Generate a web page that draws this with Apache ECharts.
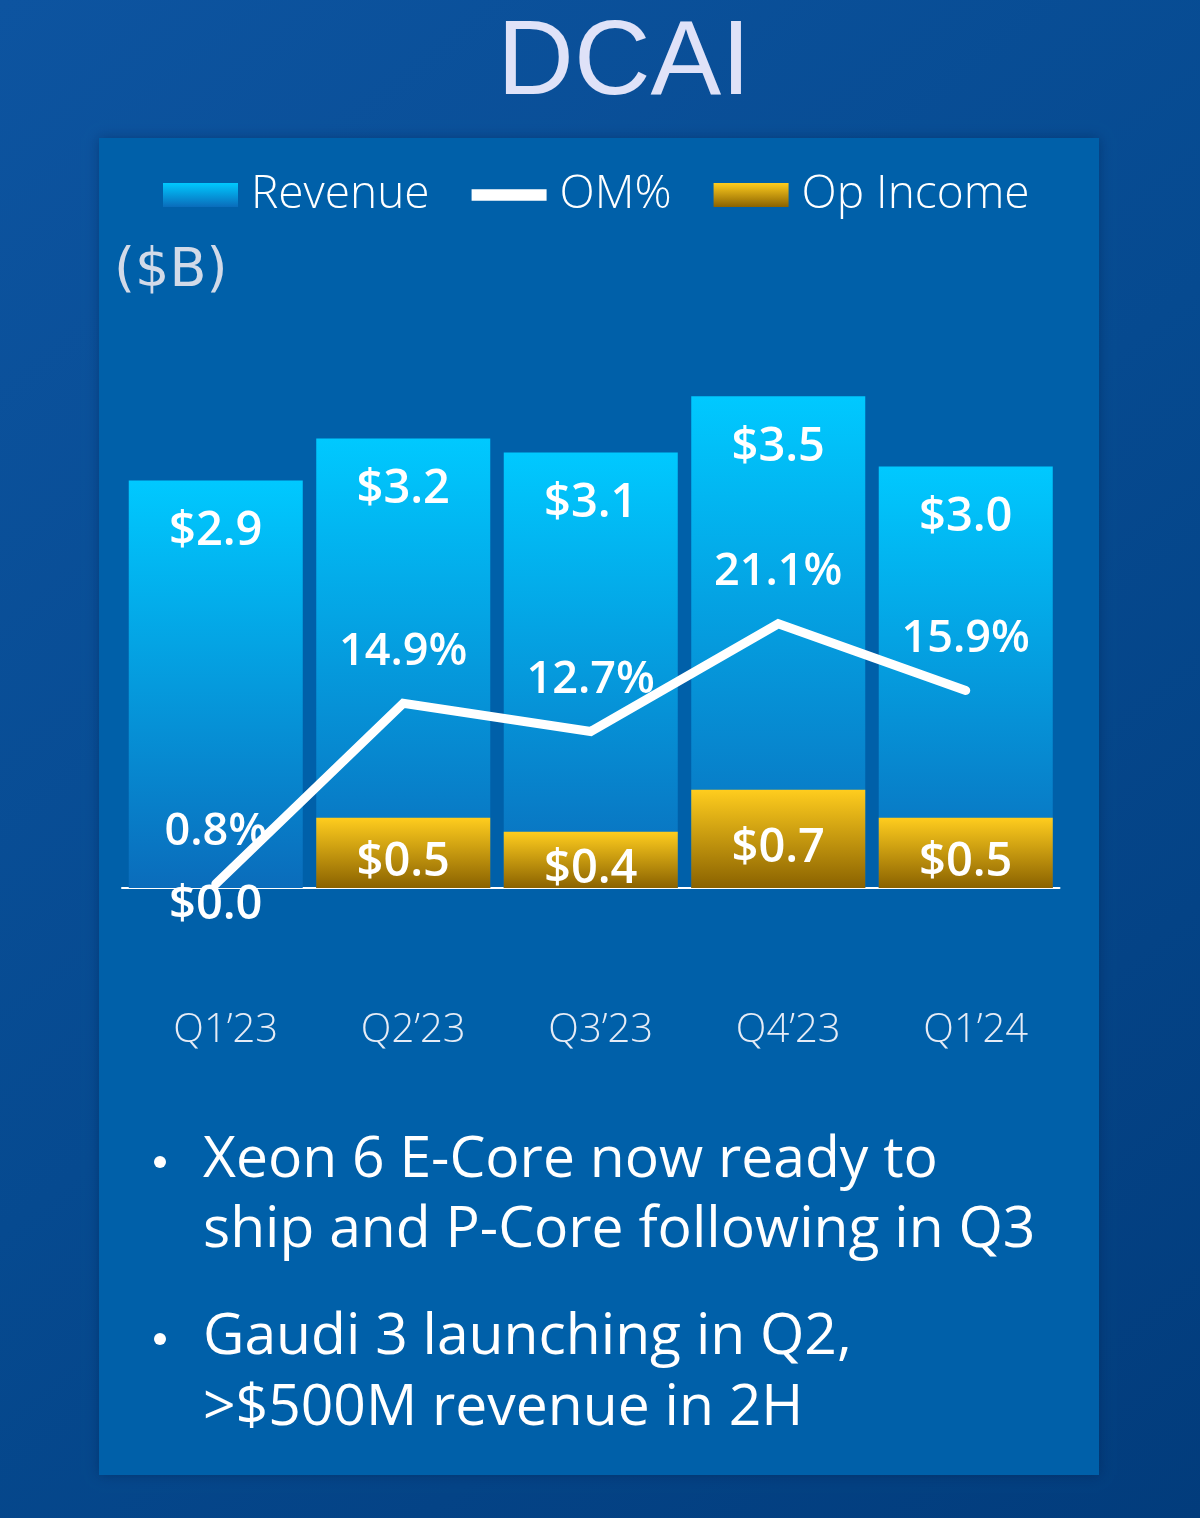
<!DOCTYPE html>
<html>
<head>
<meta charset="utf-8">
<script src="https://cdn.jsdelivr.net/npm/echarts@6/dist/echarts.min.js"></script>
<style>
html,body{margin:0;padding:0;background:#0a4689;}
#chart{width:1200px;height:1518px;}
</style>
</head>
<body>
<div id="chart"></div>
<script>
const categories = ['Q1\u201923', 'Q2\u201923', 'Q3\u201923', 'Q4\u201923', 'Q1\u201924'];
const revenue = [2.9, 3.2, 3.1, 3.5, 3.0];
const opIncome = [0.0, 0.5, 0.4, 0.7, 0.5];
const omPct = [0.8, 14.9, 12.7, 21.1, 15.9];
const titleText = 'DCAI';
const unitText = '($B)';
const bullets = [
  ['Xeon 6 E-Core now ready to', 'ship and P-Core following in Q3'],
  ['Gaudi 3 launching in Q2,', '>$500M revenue in 2H']
];

const chart = echarts.init(document.getElementById('chart'), null, {renderer: 'canvas'});
const FONT = '"Open Sans", "Liberation Sans", sans-serif';
const lg = (stops, x2, y2) => new echarts.graphic.LinearGradient(0, 0, x2 || 0, y2 === undefined ? 1 : y2, stops.map((c, i) => ({offset: i / (stops.length - 1), color: c})));
const revGrad = lg(['#00c9ff', '#0a6cbb']);
const goldGrad = lg(['#ffcd1e', '#8a6200']);

const bulletGraphics = [];
const lineY = [[1161, 1231], [1338, 1409]];
bullets.forEach((b, bi) => {
  bulletGraphics.push({type: 'circle', shape: {cx: 160, cy: lineY[bi][0] + 1, r: 6}, style: {fill: '#ffffff'}});
  b.forEach((t, li) => {
    bulletGraphics.push({
      type: 'text', x: 203, y: lineY[bi][li],
      style: {text: t, fill: '#ffffff', font: '400 57px ' + FONT, verticalAlign: 'middle', align: 'left'}
    });
  });
});

const option = {
  backgroundColor: 'transparent',
  animation: false,
  graphic: [
    {type: 'rect', z: -10, shape: {x: 0, y: 0, width: 1200, height: 1518},
     style: {fill: lg(['#0d54a0', '#064a90', '#023c7c'], 1, 1)}},
    {type: 'rect', z: -9, shape: {x: 99, y: 138, width: 1000, height: 1337},
     style: {fill: '#0060a9', shadowBlur: 12, shadowColor: 'rgba(0,20,60,0.35)'}},
    {type: 'text', x: 624, y: 65,
     style: {text: titleText, font: '400 106px "Liberation Sans", Arial, sans-serif', align: 'center', verticalAlign: 'middle',
             fill: '#dfe2f8'}},
    {type: 'text', x: 114, y: 272,
     style: {text: unitText, font: '400 54px "DejaVu Sans", sans-serif', fill: '#d2dae8', align: 'left', verticalAlign: 'middle'}},
    ...bulletGraphics
  ],
  legend: {
    top: 172, left: 163, padding: 0,
    itemWidth: 75, itemHeight: 24, itemGap: 42,
    textStyle: {color: '#ffffff', fontSize: 46, fontFamily: FONT, fontWeight: 300, padding: [0, 0, 0, 8]},
    data: [
      {name: 'Revenue', icon: 'rect', itemStyle: {color: revGrad}},
      {name: 'OM%', icon: 'path://M0,0 L65,0 L65,10 L0,10 Z', itemStyle: {color: '#ffffff', opacity: 1}},
      {name: 'Op Income', icon: 'rect', itemStyle: {color: goldGrad}}
    ]
  },
  grid: {left: 122, right: 140.5, top: 326, bottom: 630, containLabel: false},
  xAxis: {
    type: 'category', data: categories,
    axisLine: {show: true, lineStyle: {color: '#ffffff', width: 2}},
    axisTick: {show: false},
    axisLabel: {color: '#e6ecf6', fontSize: 40, fontFamily: FONT, fontWeight: 300, margin: 123, padding: [0, 0, 0, 20]}
  },
  yAxis: [
    {type: 'value', min: 0, max: 4.0, show: false, splitLine: {show: false}},
    {type: 'value', min: 0.49, max: 44.33, show: false, splitLine: {show: false}}
  ],
  series: [
    {
      name: 'Revenue', type: 'bar', data: revenue, barWidth: 174, barGap: '-100%', z: 2,
      itemStyle: {color: revGrad},
      label: {show: true, position: 'insideTop', distance: 28, color: '#ffffff', fontSize: 47, lineHeight: 47,
              fontFamily: FONT, fontWeight: 600, formatter: p => '$' + p.value.toFixed(1)}
    },
    {
      name: 'Op Income', type: 'bar', barWidth: 174, z: 3,
      data: opIncome.map((v, i) => v === 0 ? {value: v, label: {offset: [0, 18]}} : v),
      itemStyle: {color: goldGrad},
      label: {show: true, position: 'inside', offset: [0, 10], color: '#ffffff', fontSize: 47, lineHeight: 47,
              fontFamily: FONT, fontWeight: 600, formatter: p => '$' + p.value.toFixed(1)}
    },
    {
      name: 'OM%', type: 'line', yAxisIndex: 1, data: omPct, z: 5,
      symbol: 'circle', symbolSize: 2, showSymbol: true,
      lineStyle: {color: '#ffffff', width: 9, cap: 'round', join: 'miter'},
      itemStyle: {color: '#ffffff'},
      label: {show: true, position: 'top', distance: 28, color: '#ffffff', fontSize: 45, lineHeight: 45,
              fontFamily: FONT, fontWeight: 600, formatter: p => p.value.toFixed(1) + '%'}
    }
  ]
};
chart.setOption(option);
</script>
</body>
</html>
